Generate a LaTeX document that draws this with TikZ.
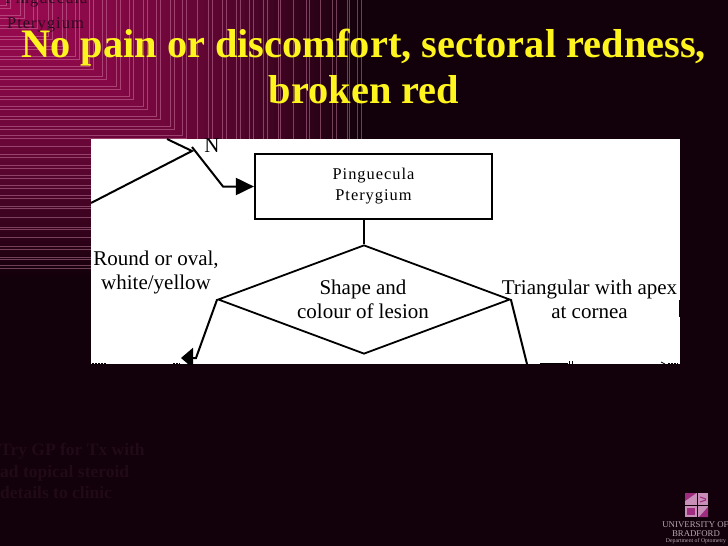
\documentclass[tikz,border=0pt]{standalone}
\usepackage{fontspec}
\setmainfont{Liberation Serif}
\newfontfamily\spacedserif[LetterSpace=6]{Liberation Serif}
\usetikzlibrary{arrows.meta,shapes.geometric,calc}
\definecolor{slidedark}{HTML}{12000A}
\definecolor{crimsonband}{HTML}{9C0A52}
\definecolor{bandline}{HTML}{D88CB0}
\definecolor{titleyellow}{HTML}{FFF51E}
\definecolor{ghosttext}{HTML}{2E0A20}
\definecolor{ghostlow}{HTML}{200A17}
\definecolor{logotext}{HTML}{B8A8B0}
\definecolor{logopale}{HTML}{C890B8}
\definecolor{logomag}{HTML}{A02C80}
\tikzset{
  x=1pt,y=-1pt,
  flow/.style={line width=2pt,black,line join=miter},
  head/.style={-{Triangle[length=18pt,width=17pt]}},
  label/.style={font=\fontsize{21}{23.7}\selectfont,align=center,text=black,inner sep=0pt},
  titletext/.style={font=\fontsize{40.4}{48}\bfseries\selectfont,text=titleyellow,anchor=base,inner sep=0pt},
  ghost/.style={font=\spacedserif\fontsize{16.5}{16.5}\selectfont,text=ghosttext,anchor=base west,inner sep=0pt},
  lowghost/.style={font=\bfseries\fontsize{17.5}{19}\selectfont,text=ghostlow,anchor=base west,inner sep=0pt},
  logotile/.style={fill=logopale,draw=none},
  logotri/.style={fill=logomag,draw=none},
  scrap/.style={black,line width=.8pt},
  scrapdots/.style={black,line width=1pt,dash pattern=on 1.5pt off 1.5pt}
}
\begin{document}
\begin{tikzpicture}
\useasboundingbox (0,0) rectangle (728,546);
\fill[slidedark] (0,0) rectangle (728,546);
% nested background bands
\foreach \i in {100,99,...,1}{
  \pgfmathtruncatemacro{\p}{100-100*(\i/100)^1.5}
  \fill[crimsonband!\p!slidedark] (0,0) rectangle (3.65*\i,2.8*\i);
}
\foreach \t in {5,8,15,18,25,28,36,39,46,49,56,59,66,69,76,79,86,89,96,99,106,109,116,119,126,129,135,138,146,154,157,165,168,175,178,185,188,195,198,206,208,217,227,229,237,246,249,257,259,265,268}{
  \draw[bandline,opacity=.45,line width=.7pt] (0,\t) -- ({\t*1.35},\t) -- ({\t*1.35},0);
}
% ghost text at the top and bottom of the slide
\node[ghost] (ghostA) at (5,4) {Pinguecula};
\node[ghost] (ghostB) at (7,28.5) {Pterygium};
\node[lowghost] (lowA) at (0,455) {Try GP for Tx with};
\node[lowghost] (lowB) at (0,477) {ad topical steroid};
\node[lowghost] (lowC) at (0,498) {details to clinic};
% white panel
\fill[white] (91,139) rectangle (680,364);
\fill[slidedark] (679,300) rectangle (680,317);
% title
\node[titletext] (titleA) at (363.5,57) {No pain or discomfort, sectoral redness,};
\node[titletext] (titleB) at (364,103.5) {broken red};
% nodes
\node[draw=black,line width=2.2pt,minimum width=237pt,minimum height=65pt,inner sep=0pt,align=center,
  font=\spacedserif\fontsize{16.4}{21}\selectfont] (box) at (373.5,186.5) {Pinguecula\\Pterygium};
\node[draw=black,line width=1.8pt,diamond,minimum width=292pt,minimum height=109pt,inner sep=0pt,aspect=2.68] (lesion) at (364,299.5) {};
\node[label] (lesiontext) at (363,299) {Shape and\\colour of lesion};
\node[label] (round) at (156,272.5) {Round or oval,\\white/yellow};
\node[label] (tri) at (589.5,299) {Triangular with apex\\at cornea};
\node[label,anchor=base] (no) at (212,152) {N};
% connector points
\coordinate (inA) at (91,203);
\coordinate (inB) at (192,151);
\coordinate (inC) at (167,139);
\coordinate (bendA) at (192,147);
\coordinate (bendB) at (223,186.5);
\coordinate (leftTurn) at (196,358);
\coordinate (leftTip) at (181,358);
\coordinate (rightEnd) at (527,364);
% connectors
\draw[flow] (inA) -- (inB) -- (inC);
\draw[flow,head] (bendA) -- (bendB) -- (box.west);
\draw[flow] (box.south -| lesion.north) -- (lesion.north);
\begin{scope}
  \clip (91,139) rectangle (680,364);
  \draw[flow,-{Triangle[length=12pt,width=20pt]}] (lesion.west) -- (leftTurn) -- (leftTip);
\end{scope}
\draw[flow] (lesion.east) -- (rightEnd);
% clipped scraps along the lower edge of the panel
\draw[scrapdots] (92,363.5) -- (107,363.5);
\draw[scrapdots] (173,363.5) -- (180,363.5);
\draw[scrap] (540,363.6) -- (568,363.6);
\draw[scrap] (569,361) -- (569,364);
\draw[scrap] (572,361) -- (572,364);
\draw[scrap] (661,362) -- (665,364);
\draw[scrapdots] (668,363.5) -- (678,363.5);
% logo
\fill[logotile] (685,493) rectangle (696.5,505);
\fill[logotile] (697.5,493) rectangle (708,505);
\fill[logotile] (685,506) rectangle (696.5,517);
\fill[logotile] (697.5,506) rectangle (708,517);
\fill[logotri] (685,493) -- (696.5,493) -- (685,501) -- cycle;
\fill[logotri] (687,508) rectangle (695,515);
\fill[logotri] (708,517) -- (708,507) -- (699,517) -- cycle;
\draw[logomag,line width=1pt] (700,497) -- (706,499) (700,502) -- (706,500);
\node[font=\fontsize{8.8}{9}\selectfont,text=logotext,inner sep=0pt,anchor=base] (logoA) at (695.5,527) {UNIVERSITY OF};
\node[font=\fontsize{8.8}{9}\selectfont,text=logotext,inner sep=0pt,anchor=base] (logoB) at (696,536) {BRADFORD};
\node[font=\fontsize{5.8}{6}\selectfont,text=logotext,inner sep=0pt,anchor=base] (logoC) at (696,542.5) {Department of Optometry};
\end{tikzpicture}
\end{document}
